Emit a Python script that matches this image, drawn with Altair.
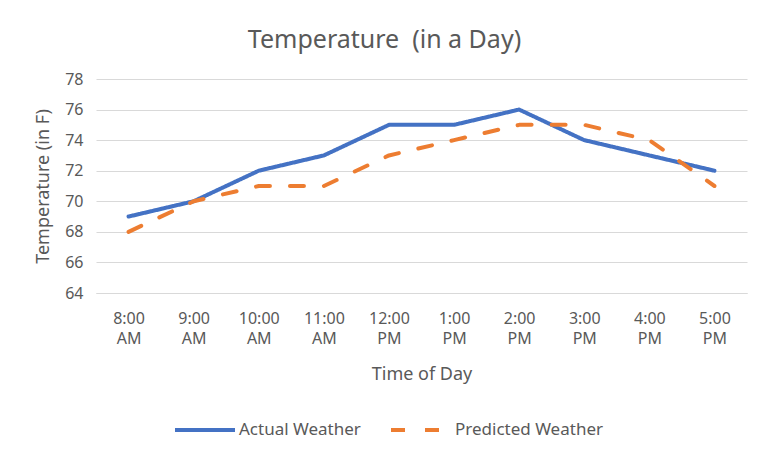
import altair as alt
import pandas as pd

times = ["8:00 AM", "9:00 AM", "10:00 AM", "11:00 AM", "12:00 PM",
         "1:00 PM", "2:00 PM", "3:00 PM", "4:00 PM", "5:00 PM"]
actual = [69, 70, 72, 73, 75, 75, 76, 74, 73, 72]
predicted = [68, 70, 71, 71, 73, 74, 75, 75, 74, 71]
series_names = ["Actual Weather", "Predicted Weather"]
y_ticks = [64, 66, 68, 70, 72, 74, 76, 78]

rows = []
for t, a, p in zip(times, actual, predicted):
    rows.append({"time": t, "temp": a, "series": series_names[0]})
    rows.append({"time": t, "temp": p, "series": series_names[1]})
df = pd.DataFrame(rows)

FONT = "Noto Sans"
GREY = "#595959"

chart = alt.Chart(df).mark_line(strokeWidth=4, strokeCap="round", strokeJoin="round").encode(
    x=alt.X("time:N", sort=times, title="Time of Day",
            scale=alt.Scale(type="point", padding=0.5),
            axis=alt.Axis(labelExpr="split(datum.label, ' ')", labelAngle=0,
                          labelFontSize=16, labelColor=GREY, labelLineHeight=20,
                          labelPadding=17, titleFontSize=18, titleColor=GREY,
                          titleFontWeight="normal", titlePadding=19,
                          ticks=False, domain=True, domainColor="#d9d9d9",
                          domainWidth=1, grid=False, labelFont=FONT, titleFont=FONT)),
    y=alt.Y("temp:Q", title="Temperature (in F)",
            scale=alt.Scale(domain=[64, 78], nice=False, zero=False),
            axis=alt.Axis(values=y_ticks, labelFontSize=16, labelColor=GREY,
                          labelPadding=13, titleFontSize=18, titleColor=GREY,
                          titleFontWeight="normal", titlePadding=12,
                          ticks=False, domain=False, grid=True, gridColor="#d9d9d9",
                          gridWidth=1, labelFont=FONT, titleFont=FONT)),
    color=alt.Color("series:N", sort=series_names,
                    scale=alt.Scale(domain=series_names, range=["#4472C4", "#ED7D31"]),
                    legend=alt.Legend(title=None, orient="none", direction="horizontal",
                                      legendX=77, legendY=319, symbolType="stroke",
                                      symbolSize=3600, symbolStrokeWidth=4,
                                      labelFontSize=17, labelColor=GREY, labelFont=FONT,
                                      labelOffset=2, columnPadding=22, symbolOffset=0)),
    strokeDash=alt.StrokeDash("series:N", sort=series_names,
                              scale=alt.Scale(domain=series_names, range=[[1, 0], [14, 20]]),
                              legend=None),
).properties(
    width=651, height=214,
    title=alt.TitleParams("Temperature\u00a0 (in a Day)", fontSize=25, color=GREY,
                          font=FONT, fontWeight="normal", offset=18, dx=-37),
    padding={"left": 88, "top": 71, "right": 13, "bottom": 160},
    autosize=alt.AutoSizeParams(type="none"),
    background="white",
).configure_view(stroke=None)

chart.save("out.html", embed_options={"renderer": "svg", "actions": False})
